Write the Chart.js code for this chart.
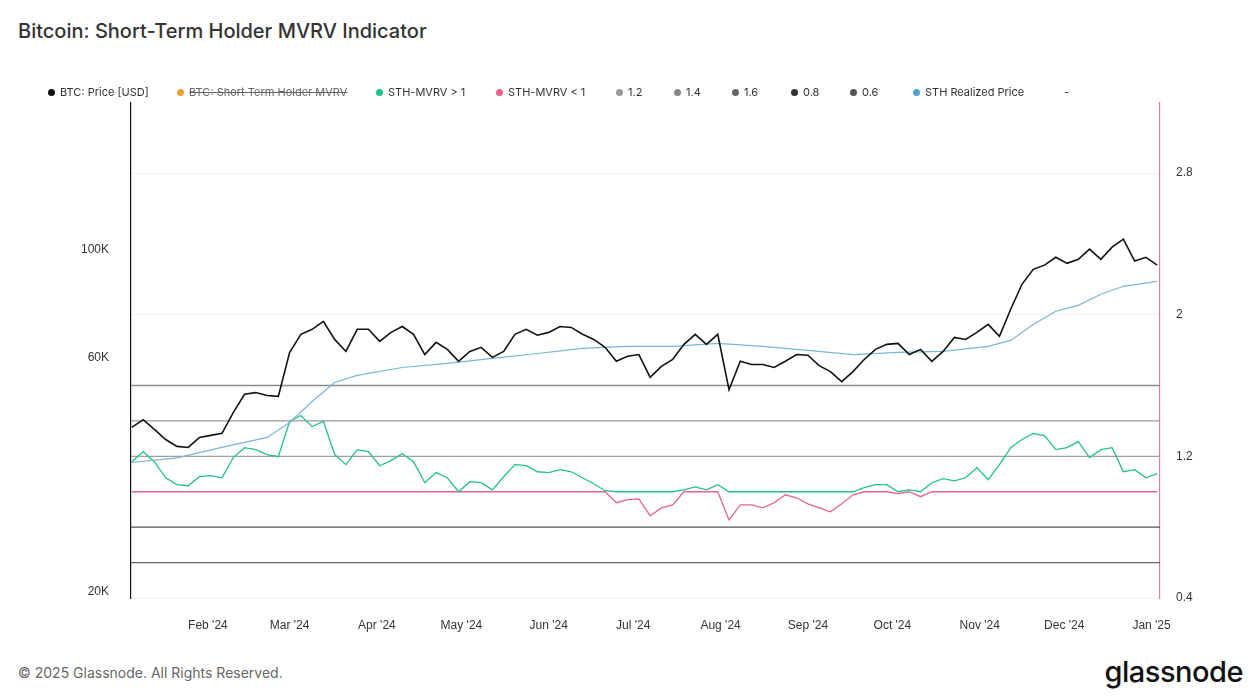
<!DOCTYPE html>
<html lang="en">
<head>
<meta charset="UTF-8">
<title>Bitcoin: Short-Term Holder MVRV Indicator</title>
<script src="https://cdn.jsdelivr.net/npm/chart.js"></script>
<style>
  body { margin: 0; background: #fff; font-family: "Inter", "Roboto", sans-serif; width: 1259px; height: 697px; position: relative; overflow: hidden; }
  #title { position: absolute; left: 18px; top: 19px; font-size: 20px; color: #333; font-weight: 500; }
  #legend { position: absolute; left: 0; top: 85px; width: 1259px; height: 16px; font-size: 11px; color: #333; z-index: 2; }
  #legend span { position: absolute; white-space: nowrap; }
  #legend i { display: inline-block; width: 7px; height: 7px; border-radius: 50%; margin-right: 5px; vertical-align: 0; }
  #wrap { position: absolute; left: 0; top: 79px; width: 1259px; height: 565px; }
  #foot { position: absolute; left: 18px; top: 664px; font-size: 14px; color: #666; }
  #logo { position: absolute; right: 16px; top: 654px; font-size: 29px; color: #111; font-weight: 500; letter-spacing: -0.5px; }
</style>
</head>
<body>
<div id="title">Bitcoin: Short-Term Holder MVRV Indicator</div>
<div id="legend"></div>
<div id="wrap"><canvas id="chart"></canvas></div>
<div id="foot">© 2025 Glassnode. All Rights Reserved.</div>
<div id="logo">glassnode</div>
<script>
// days since 1 Jan 2024, every 4 days
const days = [4,8,12,16,20,24,28,32,36,40,44,48,52,56,60,64,68,72,76,80,84,88,92,96,100,104,108,112,116,120,124,128,132,136,140,144,148,152,156,160,164,168,172,176,180,184,188,192,196,200,204,208,212,216,220,224,228,232,236,240,244,248,252,256,260,264,268,272,276,280,284,288,292,296,300,304,308,312,316,320,324,328,332,336,340,344,348,352,356,360,364,368];
const btcPrice = [43300,44900,42900,40900,39600,39400,41300,41700,42100,46400,50600,51000,50300,50100,61600,67100,68700,71300,65500,61900,68700,68700,64900,67700,69600,67100,61000,64600,62500,59100,61900,63100,60200,61900,67100,68700,66800,67700,69600,69300,67100,65500,63100,59100,60500,61000,54800,57700,59600,64000,67100,64000,67100,51700,59100,58200,58200,57400,59100,61000,60800,57900,56300,53700,56300,59600,62500,64000,64300,61000,62500,59100,61900,66100,65500,67700,70300,66500,75500,84900,91100,92900,96400,93700,95500,100200,95500,101100,105000,94700,96400,92900,95100];
const sthMvrv = [1.170,1.227,1.170,1.079,1.040,1.034,1.085,1.091,1.079,1.193,1.249,1.238,1.210,1.198,1.397,1.431,1.368,1.397,1.210,1.153,1.238,1.227,1.147,1.176,1.215,1.170,1.051,1.108,1.079,1.000,1.057,1.051,1.011,1.085,1.153,1.147,1.113,1.108,1.125,1.113,1.079,1.045,1.006,0.938,0.955,0.960,0.864,0.909,0.926,1.011,1.028,1.011,1.040,0.841,0.926,0.926,0.909,0.938,0.983,0.966,0.932,0.909,0.887,0.932,0.983,1.023,1.040,1.040,0.989,1.011,0.972,1.051,1.074,1.062,1.079,1.136,1.068,1.153,1.249,1.295,1.329,1.317,1.238,1.249,1.283,1.193,1.238,1.249,1.113,1.125,1.079,1.102];
const realizedDays = [4,20,36,52,60,68,76,84,100,116,132,148,164,180,196,212,228,244,260,276,292,308,316,324,332,340,348,356,368];
const realizedPrice = [36700,37500,39400,41300,44300,48900,53500,55300,57400,58500,59900,61300,62800,63400,63400,64300,63400,62200,61000,61600,61900,63400,65200,70300,74800,76900,81000,84100,86100];
const levels = [1.2, 1.4, 1.6, 0.8, 0.6];
const levelColors = ['#a0a0a0', '#999', '#8c8c8c', '#555', '#666'];
const monthTicks = [31,60,91,121,152,182,213,244,274,305,335,366];
const monthLabels = ["Feb '24","Mar '24","Apr '24","May '24","Jun '24","Jul '24","Aug '24","Sep '24","Oct '24","Nov '24","Dec '24","Jan '25"];
const priceTicks = [20000, 60000, 100000];
const mvrvTicks = [0.4, 1.2, 2, 2.8];

const X_MIN = 3.7, X_MAX = 369;
const GREEN = '#22c08c', RED = '#e8638a', BLUE = '#78b6d2';

// legend (html, same look as glassnode)
const legendItems = [
  ['BTC: Price [USD]', '#111', 48, false],
  ['BTC: Short Term Holder MVRV', '#f0a030', 177, true],
  ['STH-MVRV > 1', GREEN, 376, false],
  ['STH-MVRV < 1', RED, 496, false],
  ['1.2', '#999', 616, false],
  ['1.4', '#888', 674, false],
  ['1.6', '#666', 732, false],
  ['0.8', '#333', 791, false],
  ['0.6', '#555', 850, false],
  ['STH Realized Price', '#4fa3cf', 913, false],
  ['-', null, 1064, false]
];
const lg = document.getElementById('legend');
legendItems.forEach(([t, c, x, strike]) => {
  const s = document.createElement('span');
  s.style.left = x + 'px';
  s.innerHTML = (c ? '<i style="background:' + c + '"></i>' : '') +
    (strike ? '<s style="color:#666">' + t + '</s>' : t);
  lg.appendChild(s);
});

const pts = (xs, ys) => xs.map((d, i) => ({ x: d, y: ys[i] }));

const datasets = [
  { label: 'BTC: Price [USD]', data: pts(days, btcPrice), yAxisID: 'yP', borderColor: '#111', borderWidth: 1.6 },
  { label: 'STH Realized Price', data: pts(realizedDays, realizedPrice), yAxisID: 'yP', borderColor: BLUE, borderWidth: 1.2 },
  { label: 'STH-MVRV > 1', data: pts(days, sthMvrv.map(v => Math.max(v, 1))), yAxisID: 'yM', borderColor: GREEN, borderWidth: 1.3 },
  { label: 'STH-MVRV < 1', data: pts(days, sthMvrv.map(v => Math.min(v, 1))), yAxisID: 'yM', borderColor: RED, borderWidth: 1.3 }
];
levels.forEach((lv, i) => {
  datasets.push({ label: String(lv), data: [{ x: X_MIN, y: lv }, { x: X_MAX, y: lv }], yAxisID: 'yM', borderColor: levelColors[i], borderWidth: 1.3 });
});
datasets.forEach(d => { d.pointRadius = 0; d.tension = 0; d.fill = false; });

new Chart(document.getElementById('chart'), {
  type: 'line',
  data: { datasets },
  options: {
    animation: false,
    responsive: true,
    maintainAspectRatio: false,
    layout: { padding: 0 },
    plugins: { legend: { display: false }, tooltip: { enabled: false } },
    scales: {
      x: {
        type: 'linear', min: X_MIN, max: X_MAX,
        grid: { display: false },
        border: { display: false },
        afterBuildTicks: s => { s.ticks = monthTicks.map(v => ({ value: v })); },
        afterFit: s => { s.height = 46; },
        ticks: { color: '#333', font: { size: 12 }, padding: 12, maxRotation: 0, autoSkip: false,
          callback: v => monthLabels[monthTicks.indexOf(v)] }
      },
      yP: {
        type: 'logarithmic', position: 'left', min: 19400, max: 200000,
        grid: { display: false },
        border: { color: '#111', width: 1.2 },
        afterBuildTicks: s => { s.ticks = priceTicks.map(v => ({ value: v })); },
        afterFit: s => { s.width = 131; },
        ticks: { color: '#333', font: { size: 12 }, padding: 14, callback: v => (v / 1000) + 'K' }
      },
      yM: {
        type: 'linear', position: 'right', min: 0.4, max: 3.2,
        grid: { color: '#f3f3f3', drawTicks: false },
        border: { color: '#e07aa8', width: 1.2 },
        afterBuildTicks: s => { s.ticks = mvrvTicks.map(v => ({ value: v })); },
        afterFit: s => { s.width = 99; },
        ticks: { color: '#333', font: { size: 12 }, padding: 16, callback: v => String(v) }
      }
    }
  }
});
</script>
</body>
</html>
